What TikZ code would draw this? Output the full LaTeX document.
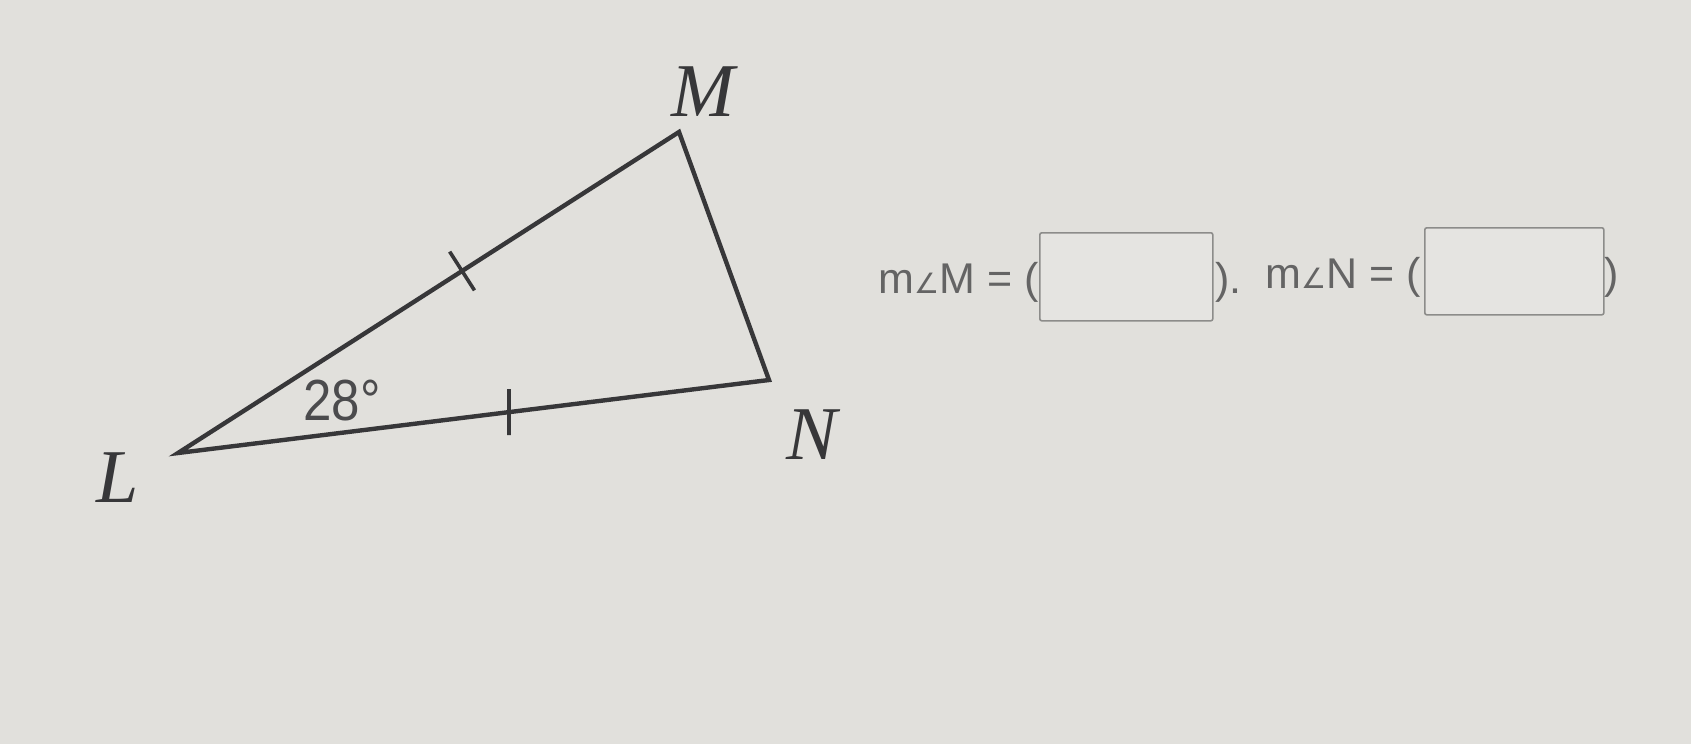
\documentclass[tikz,border=0pt]{standalone}
\usepackage{fontspec}
\newfontfamily\eqfont{Liberation Sans}
\newfontfamily\symfont{DejaVu Sans}
\newfontfamily\lblfont{Liberation Serif}
\usetikzlibrary{positioning}
\definecolor{paper}{RGB}{225,224,220}
\definecolor{ink}{RGB}{55,55,57}
\definecolor{eqgray}{RGB}{100,100,100}
\definecolor{boxgray}{RGB}{140,140,138}
\definecolor{boxfill}{RGB}{229,228,225}
\newcommand{\angsym}{{\symfont\fontsize{14}{14}\selectfont ∠}}
\begin{document}
\begin{tikzpicture}[x=0.5pt,y=-0.5pt]
\tikzstyle{vx}=[draw=none, fill=none, inner sep=0pt, text=ink, font=\lblfont\itshape\fontsize{38}{40}\selectfont]
\tikzstyle{eq}=[draw=none, inner sep=0pt, text=eqgray, anchor=base west, font=\eqfont\fontsize{21.5}{23}\selectfont]
\tikzstyle{ansbox}=[draw=boxgray, fill=boxfill, line width=0.8pt, rounded corners=1pt, anchor=north west, inner sep=0pt]
\tikzstyle{tickmark}=[draw=ink, line width=1.8pt, inner sep=0pt, minimum width=0pt, minimum height=23pt]
\useasboundingbox[fill=paper] (0,0) rectangle (1691,744);

\coordinate (L) at (178,453);
\coordinate (M) at (679,132);
\coordinate (N) at (769,380);

\node[vx] (lL) at (118,478) {L};
\node[vx] (lM) at (703,92) {M};
\node[vx] (lN) at (812,435) {N};
\node[draw=none, inner sep=0pt, text=ink!90!white, font=\eqfont\fontsize{29}{31}\selectfont] (ang) at (342,401) {\scalebox{0.88}[1]{28\textdegree}};

\draw[ink, line width=2.2pt, line join=miter] (L) -- (M) -- (N) -- cycle;
\path (L) -- (M) node[tickmark, pos=0.567, sloped] (t1) {};
\path (L) -- (N) node[tickmark, pos=0.56] (t2) {};

\node[eq] (eqM) at (878,293) {m\angsym M = (};
\node[ansbox, minimum width=86.5pt, minimum height=44pt] (boxM) at (1039,232) {};
\node[eq] (closeM) at (1215,293) {).};
\node[eq] (eqN) at (1265,288) {m\angsym N = (};
\node[ansbox, minimum width=89.5pt, minimum height=43.5pt] (boxN) at (1424,227) {};
\node[eq] (closeN) at (1604,288) {)};
\end{tikzpicture}
\end{document}
